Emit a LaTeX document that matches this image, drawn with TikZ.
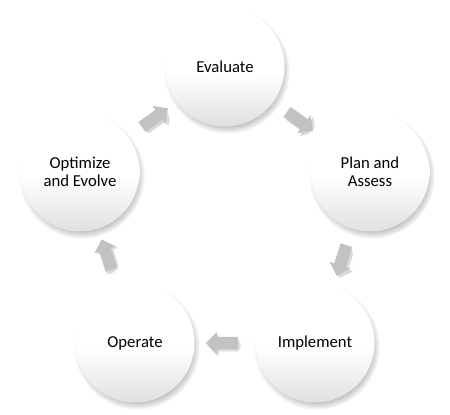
\documentclass[tikz,border=0pt]{standalone}
\usepackage{fontspec}
\setmainfont{Carlito}
\usetikzlibrary{shapes.arrows,shadows,fadings,calc}
\definecolor{arrowgray}{rgb}{0.76,0.76,0.76}
\definecolor{circlebottom}{rgb}{0.88,0.88,0.88}
\pgfdeclareverticalshading{stageshade}{100bp}{color(0bp)=(circlebottom); color(25bp)=(circlebottom); color(48bp)=(white); color(100bp)=(white)}

\begin{document}
\begin{tikzpicture}[x=0.02cm,y=-0.02cm,
  stage/.style={circle,minimum size=2.38cm,inner sep=0pt,align=center,
    shading=stageshade,
    circular drop shadow={shadow xshift=1pt,shadow yshift=-2pt,opacity=.55,shadow scale=1.06},
    font=\fontsize{9.5}{10.5}\selectfont},
  blockarrow/.style={single arrow,fill=arrowgray,minimum height=0.64cm,
    inner xsep=0pt,inner ysep=0.115cm,single arrow head extend=0.1cm,
    circular drop shadow={shadow xshift=1pt,shadow yshift=-1pt,opacity=.3,shadow scale=1.08}}]
\useasboundingbox (0,0) rectangle (450,415);

\node[stage] (eval) at (225,67) {Evaluate};
\node[stage] (plan) at (370,172) {Plan and\\Assess};
\node[stage] (impl) at (315,343) {Implement};
\node[stage] (oper) at (135,343) {Operate};
\node[stage] (optim) at (80,172) {Optimize\\and Evolve};

\node[blockarrow,rotate=-36] (a1) at ($(eval)!0.5!(plan)$) {};
\node[blockarrow,rotate=-108] (a2) at ($(plan)!0.5!(impl)$) {};
\node[blockarrow,rotate=180] (a3) at ($(impl)!0.5!(oper)$) {};
\node[blockarrow,rotate=108] (a4) at ($(oper)!0.5!(optim)$) {};
\node[blockarrow,rotate=36] (a5) at ($(optim)!0.5!(eval)$) {};
\end{tikzpicture}
\end{document}
